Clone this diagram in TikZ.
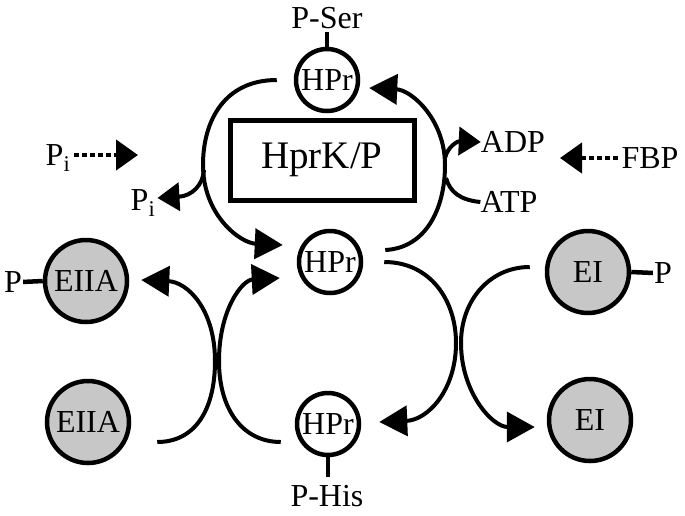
\documentclass[tikz,border=0pt]{standalone}
\usepackage{fontspec}
\setmainfont{Liberation Serif}
\usetikzlibrary{arrows.meta, positioning, calc}
\newcommand{\lblsize}{\fontsize{32}{34}\selectfont}
\tikzset{
  protein/.style={circle, draw, line width=4.5pt, minimum size=62pt, inner sep=0pt, font=\lblsize},
  enzyme/.style={protein, minimum size=82pt, fill=black!22},
  flow/.style={line width=4pt, -{Triangle[length=28pt, width=30pt]}},
  branch/.style={line width=4pt, -{Triangle[length=22pt, width=28pt]}},
  signal/.style={line width=4.5pt, dash pattern=on 5pt off 3pt, -{Triangle[length=22pt, width=30pt]}},
  tag/.style={font=\lblsize, inner sep=0pt},
  stub/.style={line width=4.5pt},
}

\begin{document}
\begin{tikzpicture}[x=1pt, y=-1pt]
  \useasboundingbox (0,0) rectangle (685,515);

  % HPr forms and the kinase/phosphorylase
  \node[protein] (hprS) at (327,80) {HPr};
  \node[protein] (hprM) at (330,262) {HPr};
  \node[protein] (hprH) at (328,424) {HPr};
  \node[draw, line width=5pt, minimum width=184pt, minimum height=80pt,
        font=\fontsize{39}{42}\selectfont] (kin) at (322,160) {HprK/P};

  % PTS enzymes
  \node[enzyme] (eiiaP) at (86,281) {EIIA};
  \node[enzyme] (eiia) at (88,422) {EIIA};
  \node[enzyme] (eiP) at (588,272) {EI};
  \node[enzyme] (ei) at (590,420) {EI};

  % phospho groups
  \node[tag] (ser) at (327,18) {P-Ser};
  \node[tag] (his) at (327,496) {P-His};
  \node[tag] (pA) at (13,282) {P};
  \node[tag] (pE) at (663,273) {P};
  \draw[stub, shorten >=3pt] (hprS.north) -- (hprS.north |- ser.south);
  \draw[stub, shorten >=8pt] (hprH.south) -- (hprH.south |- his.north);
  \draw[stub, shorten >=1pt] (eiiaP.west) -- (pA.east);
  \draw[stub, shorten >=1pt] (eiP.east) -- (pE.west);

  % small molecules
  \node[tag] (piIn) at (58,158) {P$_\mathrm{i}$};
  \node[tag] (piOut) at (143,203) {P$_\mathrm{i}$};
  \node[tag] (adp) at (513,142) {ADP};
  \node[tag] (atp) at (509,202) {ATP};
  \node[tag] (fbp) at (650,158) {FBP};
  \coordinate (piTip) at (138,155);
  \coordinate (fbpTip) at (560,158);
  \coordinate (piBr) at (204,170);
  \coordinate (adpBr) at (445,158);
  \coordinate (atpBr) at (446,178);

  % HprK/P cycle
  \draw[flow] ($(hprS.west)+(-17,0)$) .. controls (225,80) and (203,120) .. (203,165)
    .. controls (203,215) and (240,243) .. ($(hprM.west)+(-14,-17)$);
  \draw[flow] ($(hprM.east)+(22,-12)$) .. controls (425,248) and (445,210) .. (445,165)
    .. controls (445,120) and (412,90) .. ($(hprS.east)+(9,8)$);
  \draw[branch] (piBr) .. controls (203,185) and (192,196) .. ($(piOut.east)+(2,-5)$);
  \draw[branch] (adpBr) .. controls (448,146) and (458,141) .. (adp.west);
  \draw[line width=4pt] (atpBr) .. controls (450,192) and (460,200) .. (atp.west);

  % effectors
  \draw[signal, shorten <=4pt] (piIn.east |- piTip) -- (piTip);
  \draw[signal, shorten <=3pt] (fbp.west) -- (fbpTip);

  % EIIA <-> HPr(His~P)
  \draw[flow] ($(eiia.east)+(26,20)$) .. controls (195,442) and (215,410) .. (215,361)
    .. controls (215,310) and (188,282) .. ($(eiiaP.east)+(12,-1)$);
  \draw[flow] ($(hprH.west)+(-14,18)$) .. controls (243,442) and (219,410) .. (219,361)
    .. controls (219,310) and (242,280) .. ($(hprM.west)+(-17,16)$);

  % EI~P <-> HPr
  \draw[flow] ($(hprM.east)+(21,0)$) .. controls (430,262) and (456,300) .. (456,343)
    .. controls (456,390) and (428,420) .. ($(hprH.east)+(18,-2)$);
  \draw[flow] ($(eiP.west)+(-15,-5)$) .. controls (490,267) and (461,300) .. (461,343)
    .. controls (461,392) and (492,427) .. ($(ei.west)+(-12,7)$);
\end{tikzpicture}
\end{document}
